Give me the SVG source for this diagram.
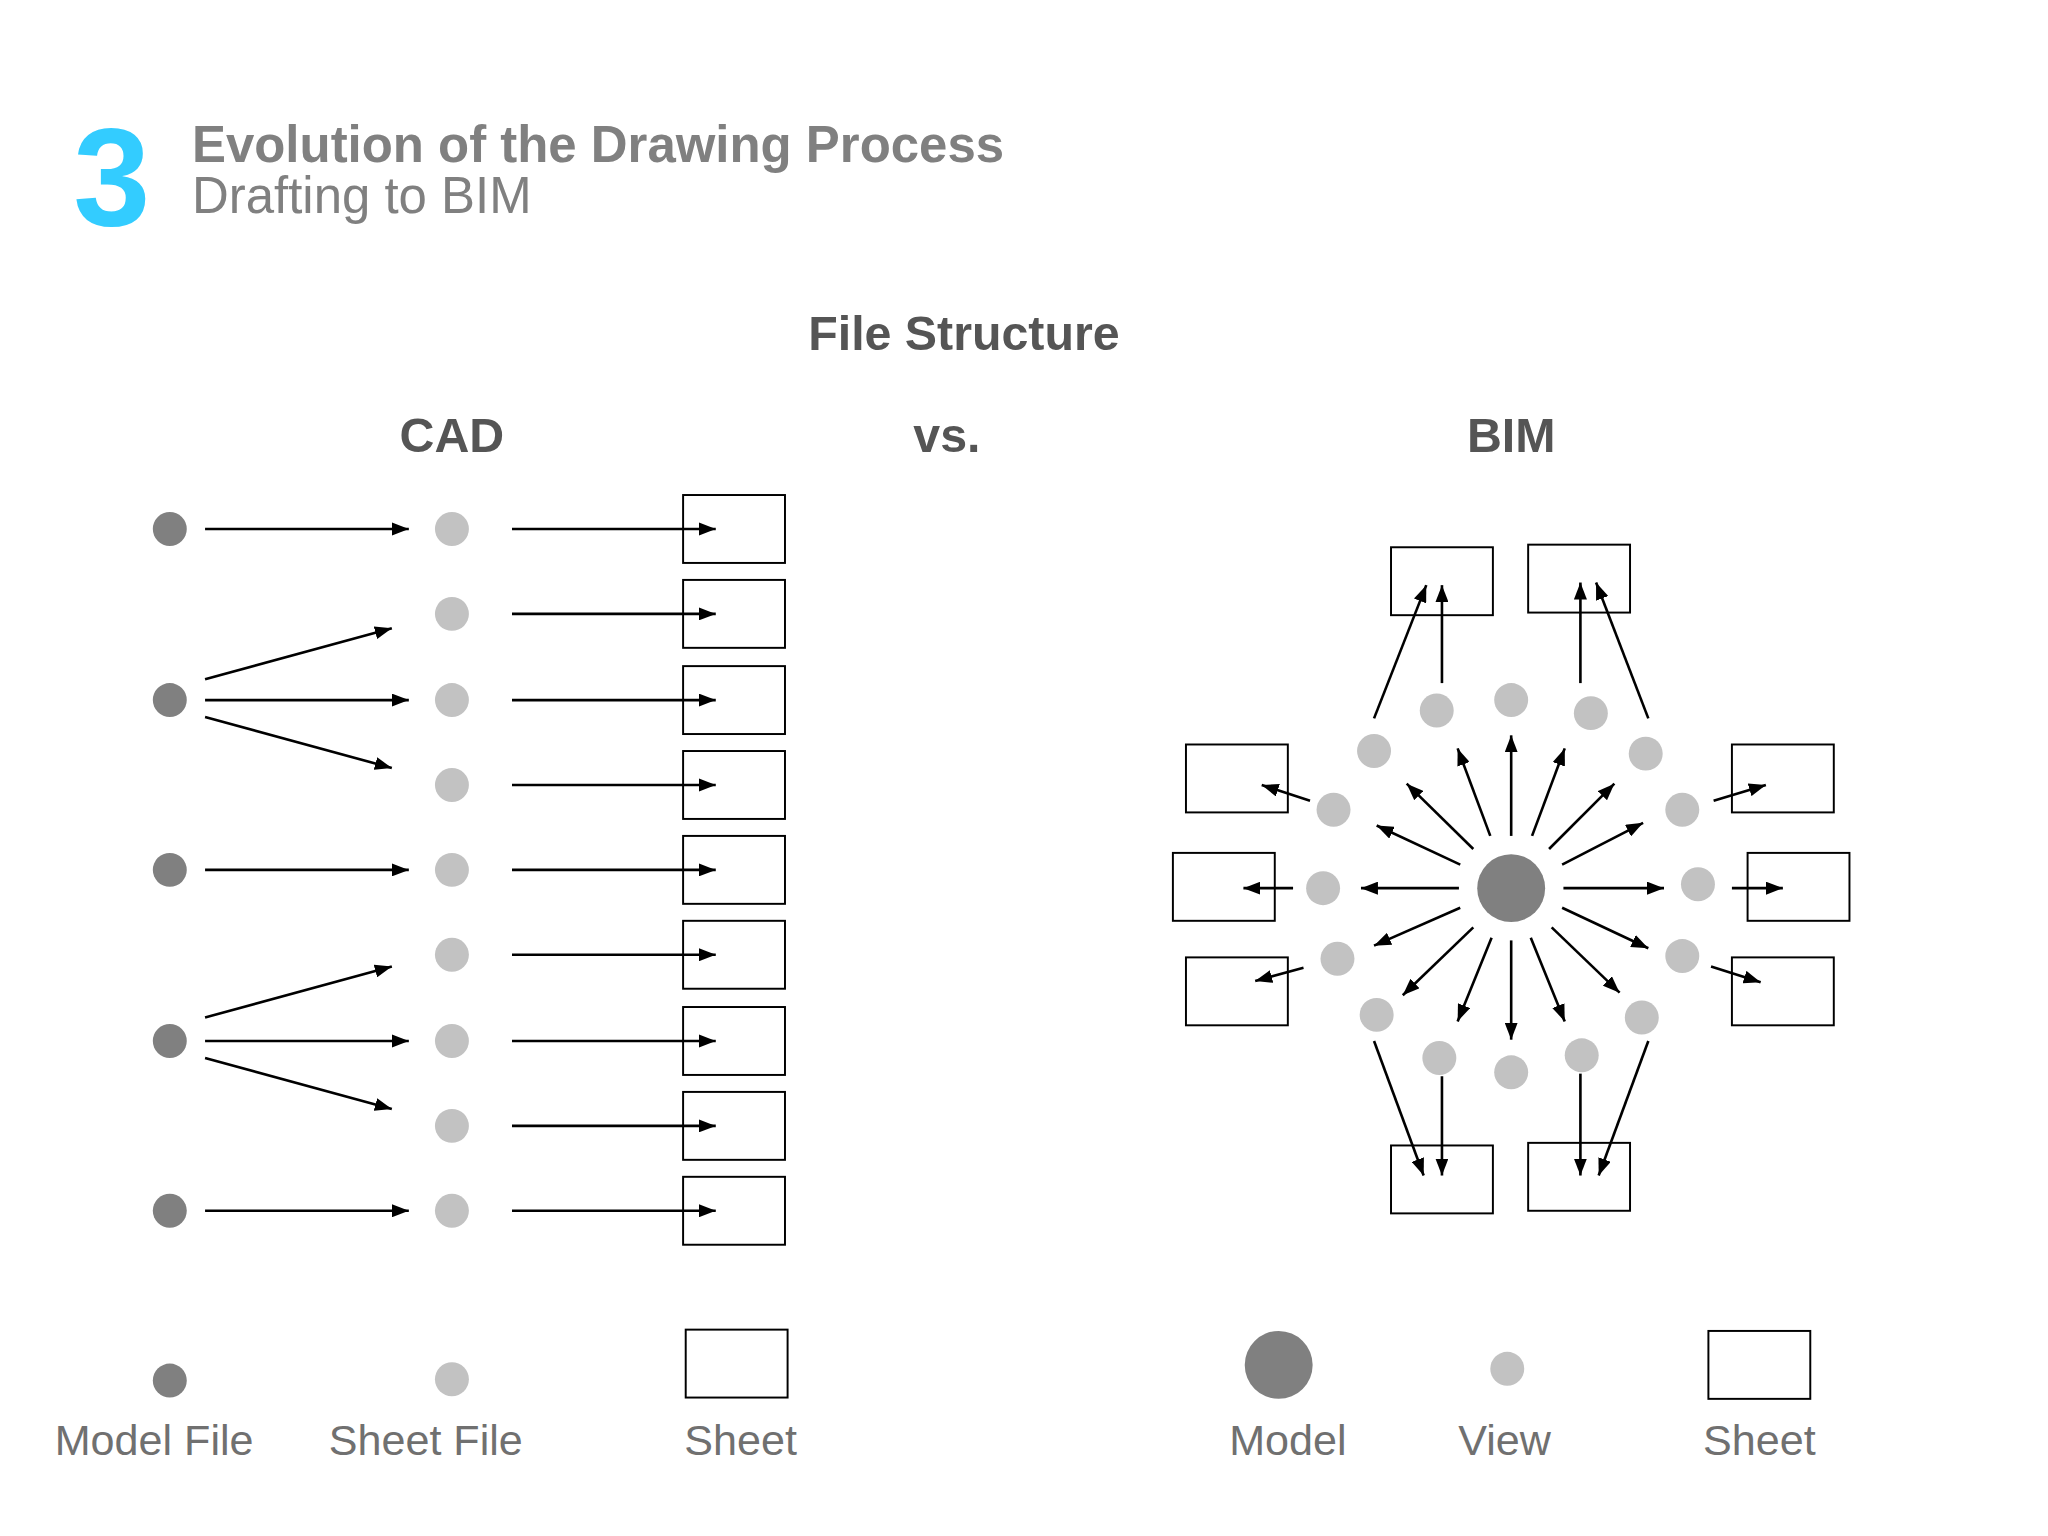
<svg xmlns="http://www.w3.org/2000/svg" width="2048" height="1536" viewBox="0 0 2048 1536">
<defs>
<marker id="ah" viewBox="0 0 10 10" refX="10" refY="5" markerWidth="13" markerHeight="10" orient="auto" markerUnits="userSpaceOnUse" preserveAspectRatio="none"><path d="M0,0 L10,5 L0,10 z" fill="#000"/></marker>
<style>
.t{font-family:"Liberation Sans",Arial,sans-serif}
.dk{fill:#808080}.lt{fill:#c2c2c2}
.sh{fill:#fff;stroke:#000;stroke-width:1.5}
.c line{stroke:#000;stroke-width:2;marker-end:url(#ah)}
.lg{font-size:33px;fill:#707070;text-anchor:middle}
.hd{font-size:37px;font-weight:bold;fill:#555;text-anchor:middle}
</style>
</defs>
<rect width="2048" height="1536" fill="#fff"/>
<g transform="scale(1.30612)">
<g id="title">
<text class="t" x="56" y="172" font-size="106" font-weight="bold" fill="#33CCFF">3</text>
<text class="t" x="147" y="124" font-size="39" font-weight="bold" fill="#808080">Evolution of the Drawing Process</text>
<text class="t" x="147" y="163" font-size="39" fill="#808080">Drafting to BIM</text>
<text class="t hd" x="738" y="268">File Structure</text>
<text class="t hd" x="346" y="346">CAD</text>
<text class="t hd" x="725" y="346">vs.</text>
<text class="t hd" x="1157" y="346">BIM</text>
</g>
<g id="cad-nodes">
<circle class="dk" cx="130" cy="405" r="13"/><circle class="dk" cx="130" cy="536" r="13"/><circle class="dk" cx="130" cy="666" r="13"/><circle class="dk" cx="130" cy="797" r="13"/><circle class="dk" cx="130" cy="927" r="13"/>
<circle class="lt" cx="346" cy="405" r="13"/><circle class="lt" cx="346" cy="470" r="13"/><circle class="lt" cx="346" cy="536" r="13"/><circle class="lt" cx="346" cy="601" r="13"/><circle class="lt" cx="346" cy="666" r="13"/><circle class="lt" cx="346" cy="731" r="13"/><circle class="lt" cx="346" cy="797" r="13"/><circle class="lt" cx="346" cy="862" r="13"/><circle class="lt" cx="346" cy="927" r="13"/>
<rect class="sh" x="523" y="379" width="78" height="52"/><rect class="sh" x="523" y="444" width="78" height="52"/><rect class="sh" x="523" y="510" width="78" height="52"/><rect class="sh" x="523" y="575" width="78" height="52"/><rect class="sh" x="523" y="640" width="78" height="52"/><rect class="sh" x="523" y="705" width="78" height="52"/><rect class="sh" x="523" y="771" width="78" height="52"/><rect class="sh" x="523" y="836" width="78" height="52"/><rect class="sh" x="523" y="901" width="78" height="52"/>
</g>
<g id="bim-nodes">
<circle class="dk" cx="1157" cy="680" r="26"/>
<circle class="lt" cx="1100" cy="544" r="13"/><circle class="lt" cx="1157" cy="536" r="13"/><circle class="lt" cx="1218" cy="546" r="13"/><circle class="lt" cx="1052" cy="575" r="13"/><circle class="lt" cx="1260" cy="577" r="13"/><circle class="lt" cx="1021" cy="620" r="13"/><circle class="lt" cx="1288" cy="620" r="13"/><circle class="lt" cx="1013" cy="680" r="13"/><circle class="lt" cx="1300" cy="677" r="13"/><circle class="lt" cx="1024" cy="734" r="13"/><circle class="lt" cx="1288" cy="732" r="13"/><circle class="lt" cx="1054" cy="777" r="13"/><circle class="lt" cx="1257" cy="779" r="13"/><circle class="lt" cx="1102" cy="810" r="13"/><circle class="lt" cx="1157" cy="821" r="13"/><circle class="lt" cx="1211" cy="808" r="13"/>
<rect class="sh" x="1065" y="419" width="78" height="52"/><rect class="sh" x="1170" y="417" width="78" height="52"/>
<rect class="sh" x="908" y="570" width="78" height="52"/><rect class="sh" x="898" y="653" width="78" height="52"/><rect class="sh" x="908" y="733" width="78" height="52"/>
<rect class="sh" x="1326" y="570" width="78" height="52"/><rect class="sh" x="1338" y="653" width="78" height="52"/><rect class="sh" x="1326" y="733" width="78" height="52"/>
<rect class="sh" x="1065" y="877" width="78" height="52"/><rect class="sh" x="1170" y="875" width="78" height="52"/>
</g>
<g id="connectors" class="c">
<line x1="157" y1="405" x2="313" y2="405"/><line x1="157" y1="520" x2="300" y2="481"/><line x1="157" y1="536" x2="313" y2="536"/><line x1="157" y1="549" x2="300" y2="588"/><line x1="157" y1="666" x2="313" y2="666"/><line x1="157" y1="779" x2="300" y2="740"/><line x1="157" y1="797" x2="313" y2="797"/><line x1="157" y1="810" x2="300" y2="849"/><line x1="157" y1="927" x2="313" y2="927"/>
<line x1="392" y1="405" x2="548" y2="405"/><line x1="392" y1="470" x2="548" y2="470"/><line x1="392" y1="536" x2="548" y2="536"/><line x1="392" y1="601" x2="548" y2="601"/><line x1="392" y1="666" x2="548" y2="666"/><line x1="392" y1="731" x2="548" y2="731"/><line x1="392" y1="797" x2="548" y2="797"/><line x1="392" y1="862" x2="548" y2="862"/><line x1="392" y1="927" x2="548" y2="927"/>
<line x1="1157" y1="640" x2="1157" y2="563"/><line x1="1141" y1="640" x2="1116" y2="573"/><line x1="1173" y1="640" x2="1198" y2="573"/><line x1="1128" y1="650" x2="1077" y2="600"/><line x1="1186" y1="650" x2="1236" y2="600"/><line x1="1118" y1="662" x2="1054" y2="632"/><line x1="1196" y1="662" x2="1258" y2="630"/><line x1="1117" y1="680" x2="1042" y2="680"/><line x1="1197" y1="680" x2="1274" y2="680"/><line x1="1118" y1="695" x2="1052" y2="724"/><line x1="1196" y1="695" x2="1262" y2="726"/><line x1="1128" y1="710" x2="1074" y2="762"/><line x1="1188" y1="710" x2="1240" y2="760"/><line x1="1142" y1="718" x2="1116" y2="782"/><line x1="1172" y1="718" x2="1198" y2="782"/><line x1="1157" y1="720" x2="1157" y2="796"/>
<line x1="1104" y1="523" x2="1104" y2="448"/><line x1="1052" y1="550" x2="1092" y2="448"/><line x1="1210" y1="523" x2="1210" y2="446"/><line x1="1262" y1="550" x2="1222" y2="446"/>
<line x1="1003" y1="613" x2="966" y2="601"/><line x1="990" y1="680" x2="952" y2="680"/><line x1="998" y1="741" x2="961" y2="751"/>
<line x1="1312" y1="613" x2="1352" y2="601"/><line x1="1326" y1="680" x2="1365" y2="680"/><line x1="1310" y1="740" x2="1348" y2="752"/>
<line x1="1104" y1="824" x2="1104" y2="900"/><line x1="1052" y1="797" x2="1090" y2="900"/><line x1="1210" y1="822" x2="1210" y2="900"/><line x1="1262" y1="797" x2="1224" y2="900"/>
</g>
<g id="legend">
<circle class="dk" cx="130" cy="1057" r="13"/><circle class="lt" cx="346" cy="1056" r="13"/><rect class="sh" x="525" y="1018" width="78" height="52"/>
<text class="t lg" x="118" y="1114">Model File</text><text class="t lg" x="326" y="1114">Sheet File</text><text class="t lg" x="567" y="1114">Sheet</text>
<circle class="dk" cx="979" cy="1045" r="26"/><circle class="lt" cx="1154" cy="1048" r="13"/><rect class="sh" x="1308" y="1019" width="78" height="52"/>
<text class="t lg" x="986" y="1114">Model</text><text class="t lg" x="1152" y="1114">View</text><text class="t lg" x="1347" y="1114">Sheet</text>
</g>
</g>
</svg>
